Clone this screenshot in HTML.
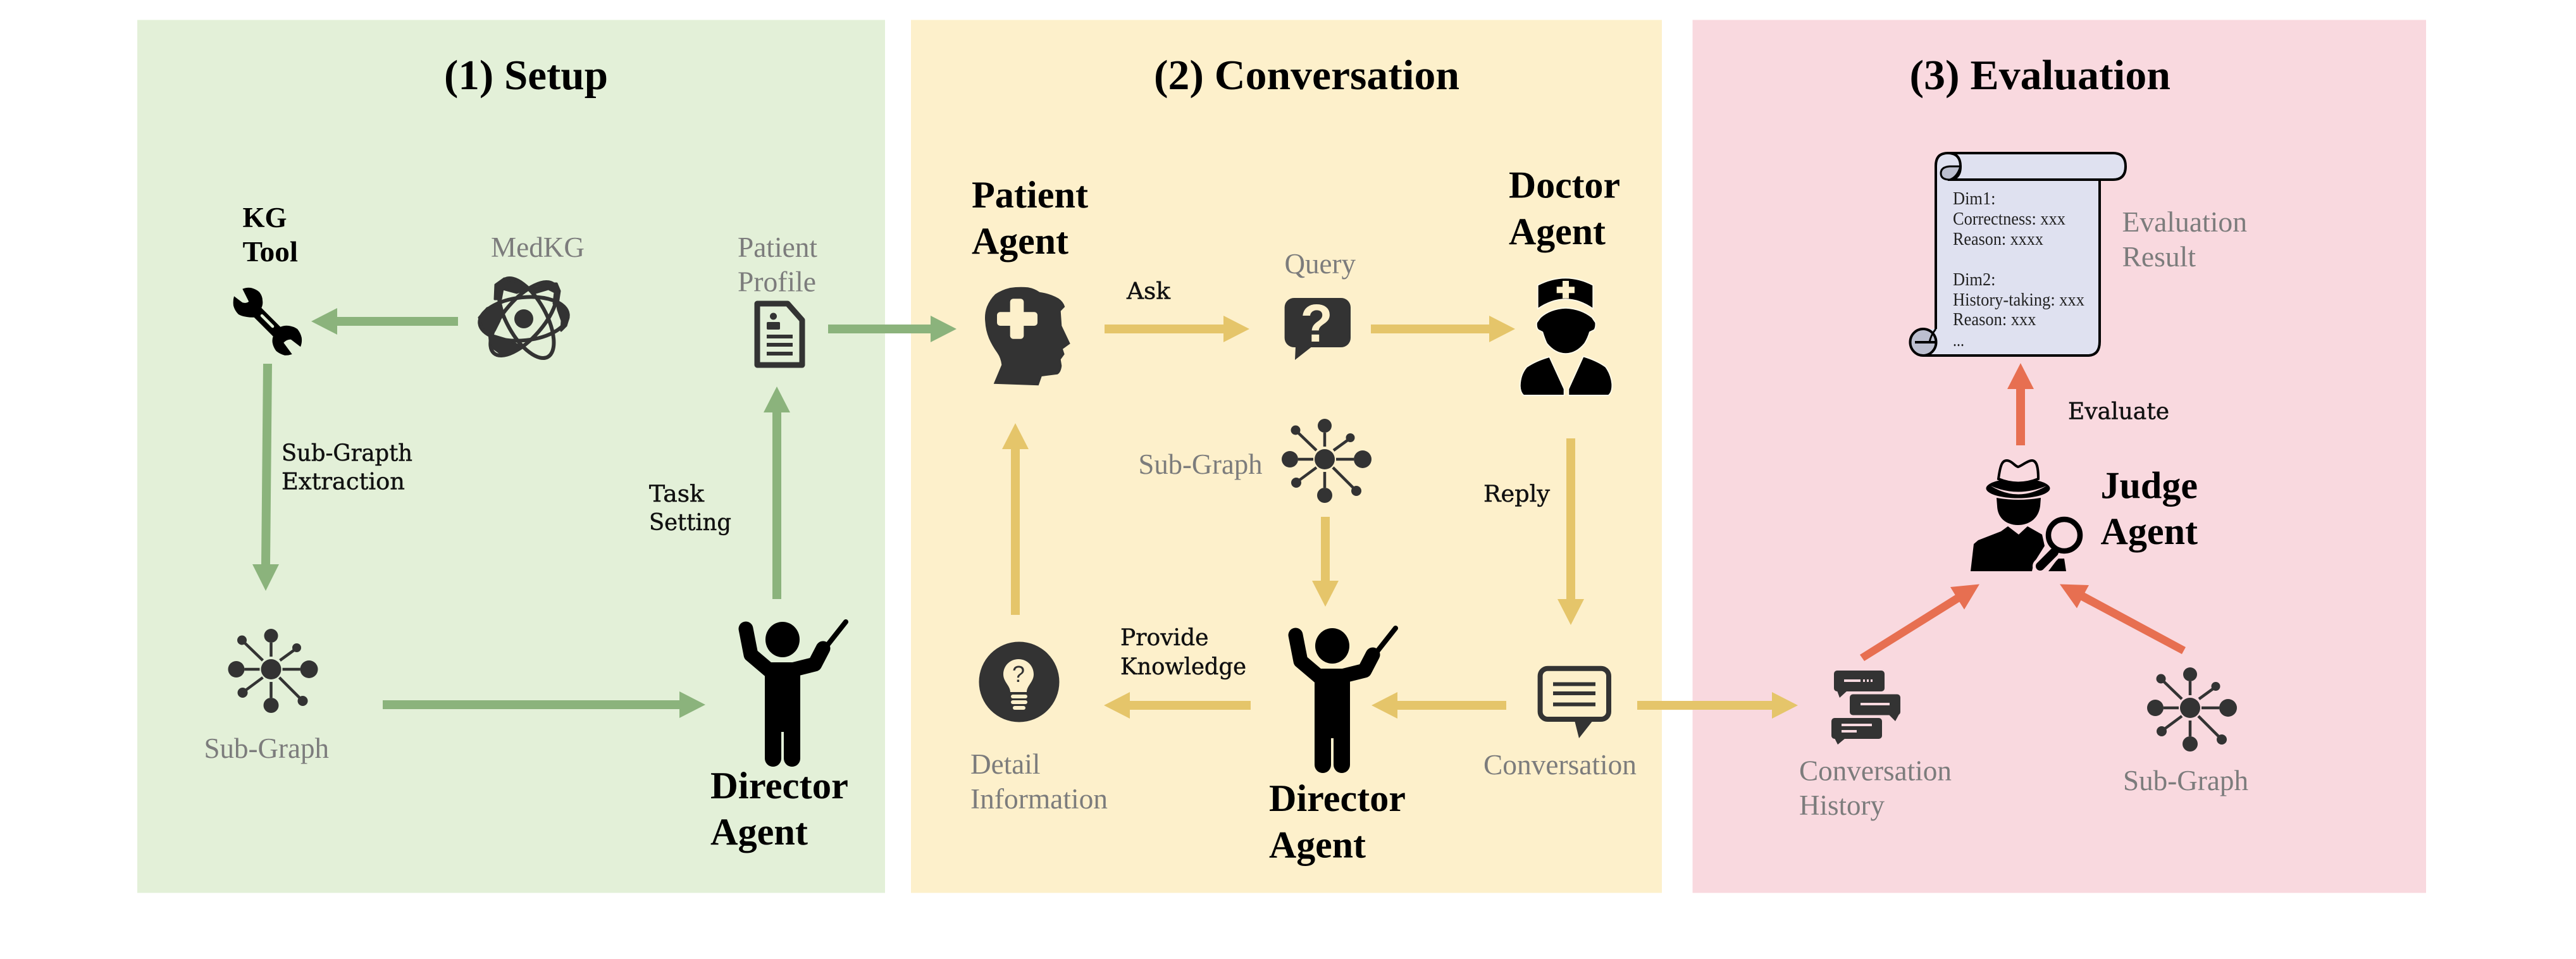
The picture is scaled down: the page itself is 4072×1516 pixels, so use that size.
<!DOCTYPE html>
<html>
<head>
<meta charset="utf-8">
<style>
html,body{margin:0;padding:0;background:#fff}
svg{display:block}
text{white-space:pre}
.t{font:bold 67px "Liberation Serif",serif;fill:#000}
.b{font:bold 60px "Liberation Serif",serif;fill:#000}
.k{font:bold 45px "Liberation Serif",serif;fill:#000}
.g{font:45px "Liberation Serif",serif;fill:#7c7c7c}
.m{font:36px "DejaVu Serif",serif;fill:#111;stroke:#111;stroke-width:.5}
.s{font:28px "Liberation Serif",serif;fill:#222}
.gr{fill:#8bb37c}.ye{fill:#e5c56a}.re{fill:#e76f51}
</style>
</head>
<body>
<svg xmlns="http://www.w3.org/2000/svg" width="4072" height="1516" viewBox="0 0 4072 1516">
<defs>
<g id="sg" fill="#333" stroke="none">
<g stroke="#333" stroke-width="4.5">
<line x1="0" y1="-20" x2="0" y2="-42"/><line x1="0" y1="20" x2="0" y2="45"/>
<line x1="-18" y1="0" x2="-42" y2="0"/><line x1="18" y1="0" x2="46" y2="0"/>
<line x1="-13" y1="-14" x2="-41" y2="-41"/><line x1="14" y1="-14" x2="36" y2="-30"/>
<line x1="-13" y1="13" x2="-40" y2="33"/><line x1="13" y1="13" x2="45" y2="45"/>
</g>
<circle r="16"/>
<circle cx="0" cy="-53" r="11"/><circle cx="-55" cy="0" r="13"/><circle cx="60" cy="0" r="14"/><circle cx="0" cy="57" r="12"/>
<circle cx="-46" cy="-46" r="7.5"/><circle cx="40.5" cy="-34" r="7"/><circle cx="-45" cy="37" r="8"/><circle cx="50" cy="50" r="8"/>
</g>
<g id="dir" fill="#000">
<ellipse cx="0" cy="0" rx="27" ry="28"/>
<rect x="-28" y="36" width="56" height="110"/>
<rect x="-28" y="110" width="26" height="91" rx="13"/>
<rect x="2" y="110" width="26" height="91" rx="13"/>
<polyline points="-58,-17 -50,24 -17,52" fill="none" stroke="#000" stroke-width="23" stroke-linecap="round" stroke-linejoin="round"/>
<polyline points="64,14 51,39 7,50" fill="none" stroke="#000" stroke-width="23" stroke-linecap="round" stroke-linejoin="round"/>
<line x1="70" y1="10" x2="100" y2="-28" stroke="#000" stroke-width="8" stroke-linecap="round"/>
</g>
</defs>

<rect x="217" y="31.5" width="1182" height="1380" fill="#e3f0d8"/>
<rect x="1440" y="31.5" width="1187" height="1380" fill="#fdf0cb"/>
<rect x="2675.5" y="31.5" width="1159.5" height="1380" fill="#f9d9df"/>

<text class="t" x="702" y="141" textLength="259" lengthAdjust="spacingAndGlyphs">(1) Setup</text>
<text class="t" x="1824" y="141" textLength="483" lengthAdjust="spacingAndGlyphs">(2) Conversation</text>
<text class="t" x="3018.5" y="141" textLength="412.5" lengthAdjust="spacingAndGlyphs">(3) Evaluation</text>

<!-- arrows -->
<polygon class="gr" points="724,501 533,501 533,487 492,508 533,529 533,515 724,515"/>
<polygon class="gr" points="416,575 430,575 427,892 441,892 420,934 399,892 413,892"/>
<polygon class="gr" points="605,1107 1074,1107 1074,1093 1115,1114 1074,1135 1074,1121 605,1121"/>
<polygon class="gr" points="1221,947 1221,652 1207,652 1228,611 1249,652 1235,652 1235,947"/>
<polygon class="gr" points="1309,513 1471,513 1471,499 1512,520 1471,541 1471,527 1309,527"/>
<polygon class="ye" points="1746,513 1934,513 1934,499 1975,520 1934,541 1934,527 1746,527"/>
<polygon class="ye" points="2167,513 2354,513 2354,499 2395,520 2354,541 2354,527 2167,527"/>
<polygon class="ye" points="2476,693 2490,693 2490,947 2504,947 2483,988 2462,947 2476,947"/>
<polygon class="ye" points="2381,1108 2209,1108 2209,1094 2168,1115 2209,1136 2209,1122 2381,1122"/>
<polygon class="ye" points="1977,1108 1786,1108 1786,1094 1745,1115 1786,1136 1786,1122 1977,1122"/>
<polygon class="ye" points="1598,972 1598,710 1584,710 1605,669 1626,710 1612,710 1612,972"/>
<polygon class="ye" points="2088,817 2102,817 2102,918 2116,918 2095,959 2074,918 2088,918"/>
<polygon class="ye" points="2588,1108 2801,1108 2801,1094 2842,1115 2801,1136 2801,1122 2588,1122"/>
<polygon class="re" points="3187,704 3187,615 3173,615 3194,574 3215,615 3201,615 3201,704"/>
<polygon class="re" points="2940,1035 3090.6,940.5 3083,928 3129,923.5 3105,963.5 3097.4,951.5 2947,1045"/>
<polygon class="re" points="3455,1023 3295.5,937 3302,925 3256,923.5 3283,961.5 3289.5,949 3449,1034"/>

<!-- wrench -->
<path d="M383.3 456.7 Q390 454 396.7 455 Q405 457 410 461.7 Q415 468 415 475 Q416 481 413.3 486.7 L443.3 516.7 Q450 514 456.7 515 Q464 516 470 520 Q475 526 476.7 533.3 Q478 541 475 548.3 L460 536.7 Q454 536 448.3 541.7 L461.7 560 Q456 562 450 561.7 Q443 560 436.7 555 Q432 549 430.7 541.7 Q430 536 431.7 531.7 L401.7 501.7 Q396 502 390 501 Q382 500 376.7 496.7 Q371 491 369 483.3 Q368 475 370 468.3 L383.3 478.3 Q389 480 393.3 476.7 Z" fill="#000"/>
<line x1="414" y1="499" x2="431" y2="516" stroke="#e3f0d8" stroke-width="4.5" stroke-linecap="round"/>

<!-- atom -->
<g fill="none" stroke="#333" stroke-width="6">
<ellipse cx="828" cy="504" rx="70" ry="34" transform="rotate(-6 828 504)"/>
<ellipse cx="832" cy="503" rx="70" ry="31" transform="rotate(61 832 503)"/>
<ellipse cx="828" cy="504" rx="72" ry="31" transform="rotate(-49 828 504)"/>
</g>
<circle cx="828" cy="504" r="15" fill="#333"/>
<g fill="#333" stroke="#333" stroke-width="3" stroke-linejoin="round">
<polygon points="790,480 770,487 757,502 763,520 773,527 782,523 790,507"/>
<polygon points="773,528 775,547 790,558 810,558 822,547 803,537"/>
<polygon points="782,473 783,450 797,440 820,447 833,457 817,463 795,457 792,473"/>
<polygon points="880,480 893,488 899,502 895,515 887,523 888,507 882,490"/>
<polygon points="840,458 863,448 880,448 885,460 882,480 875,480 877,462 867,457 847,463"/>
</g>

<!-- document -->
<path d="M1197 480 H1245 L1268 506 V577 H1197 Z" fill="#e3f0d8" stroke="#333" stroke-width="9" stroke-linejoin="round"/>
<circle cx="1222.5" cy="500" r="5.5" fill="#333"/>
<rect x="1212" y="509" width="21" height="12" rx="2" fill="#333"/>
<rect x="1212" y="529" width="41" height="6" fill="#333"/>
<rect x="1212" y="542" width="41" height="6" fill="#333"/>
<rect x="1212" y="556" width="41" height="6" fill="#333"/>

<!-- subgraphs -->
<use href="#sg" x="428.5" y="1058"/>
<use href="#sg" x="2094" y="726"/>
<use href="#sg" x="3462" y="1119"/>

<!-- directors -->
<use href="#dir" x="1237" y="1011"/>
<use href="#dir" x="2106" y="1021"/>

<!-- patient head -->
<path d="M1570.7 606.7 L1583.3 576.7 Q1582 566 1576.7 558.3 Q1568 546 1563.3 535 Q1558 522 1557.3 508.3 Q1556 496 1560 485 Q1565 473 1573.3 465 Q1584 458 1596.7 455 Q1611 453 1625 454.3 Q1635 456 1643.3 461.7 Q1660 464 1673.3 471.7 Q1681 477 1683.3 485 L1676.7 491.7 L1678.3 515 L1691.7 543.3 L1680 551.7 L1682.7 560 L1676.7 568.3 L1678.3 578.3 Q1677 589 1671.7 591.7 L1646.7 595 L1641.7 609.3 Z" fill="#333"/>
<rect x="1596.7" y="472.3" width="21.6" height="63.4" rx="5" fill="#fdf0cb"/>
<rect x="1576" y="493.3" width="64" height="21.7" rx="5" fill="#fdf0cb"/>

<!-- query bubble -->
<rect x="2030.6" y="471" width="104.4" height="78" rx="15" fill="#333"/>
<polygon points="2048,547 2075,547 2047,569" fill="#333"/>
<text x="2081" y="540" text-anchor="middle" style="font:bold 84px 'Liberation Sans',sans-serif;fill:#fdf0cb">?</text>

<!-- doctor -->
<g stroke="#fffaea" stroke-width="2" stroke-linejoin="round" fill="#000">
<path d="M2430.7 450.7 Q2475 428 2518.3 450.7 V488.3 Q2475 458 2430.7 488.3 Z"/>
<path d="M2475 486.7 Q2450 488 2435 501.7 L2429 510 Q2428 518 2431.7 521.7 L2438.3 525 Q2442 537 2445 543 Q2458 559 2475 559.3 Q2492 559 2505 543 Q2510 535 2513 525 L2520 521.7 Q2523 518 2522.3 510 L2516.7 501.7 Q2500 488 2475 486.7 Z"/>
<path d="M2408.3 625 Q2403 620 2402.7 610 Q2403 592 2413.3 580 Q2428 570 2449.3 564 L2472.7 615 V625 Z"/>
<path d="M2479.3 625 V615 L2502.7 563.3 Q2525 570 2538.3 580 Q2547 592 2548.3 606.7 Q2549 620 2542.7 625 Z"/>
</g>
<rect x="2470" y="444" width="10" height="27.7" fill="#fdf0cb"/>
<rect x="2460.7" y="453.3" width="28.3" height="10" fill="#fdf0cb"/>

<!-- bulb -->
<circle cx="1611" cy="1078" r="63.5" fill="#333"/>
<path d="M1597 1094 C1597 1084 1586 1078 1586 1066 C1586 1052 1597 1042 1610 1042 C1623 1042 1634 1052 1634 1066 C1634 1078 1623 1084 1623 1094 Z" fill="#fdf0cb"/>
<rect x="1598" y="1098" width="26" height="6" rx="3" fill="#fdf0cb"/>
<rect x="1598" y="1107" width="26" height="6" rx="3" fill="#fdf0cb"/>
<rect x="1601" y="1116" width="20" height="6" rx="3" fill="#fdf0cb"/>
<text x="1610" y="1078" text-anchor="middle" style="font:36px 'Liberation Sans',sans-serif;fill:#333">?</text>

<!-- conversation bubble -->
<rect x="2434.6" y="1056.7" width="108.4" height="80.3" rx="12" fill="#fdf0cb" stroke="#333" stroke-width="8"/>
<polygon points="2489,1139 2518,1139 2496,1167" fill="#333"/>
<rect x="2455" y="1078.5" width="67" height="6" fill="#333"/>
<rect x="2455" y="1093" width="67" height="6" fill="#333"/>
<rect x="2455" y="1110.5" width="67" height="6" fill="#333"/>

<!-- chat history -->
<rect x="2899" y="1060" width="80" height="33" rx="5" fill="#333"/>
<polygon points="2904,1092 2920,1092 2908,1103" fill="#333"/>
<rect x="2915" y="1074" width="26" height="4" fill="#f9d9df"/>
<rect x="2945" y="1074" width="3" height="4" fill="#f9d9df"/><rect x="2951" y="1074" width="3" height="4" fill="#f9d9df"/><rect x="2957" y="1074" width="3" height="4" fill="#f9d9df"/>
<rect x="2924" y="1097.5" width="80" height="33" rx="5" fill="#333"/>
<polygon points="2985,1129 3002,1129 2996,1140" fill="#333"/>
<rect x="2941" y="1111" width="46" height="4" fill="#f9d9df"/>
<rect x="2895" y="1135" width="80" height="33" rx="5" fill="#333"/>
<polygon points="2900,1167 2917,1167 2905,1177" fill="#333"/>
<rect x="2911" y="1144" width="48" height="4" fill="#f9d9df"/>
<rect x="2911" y="1154" width="24" height="4" fill="#f9d9df"/>

<!-- scroll -->
<path d="M3040 520 H3060 V262 Q3060 242 3079 242 L3319 284 V540 Q3319 562 3300 562 H3040 Z" fill="#dfe1f0" stroke="none"/>
<path d="M3060 520 V262 Q3060 242 3079 242 M3319 284 V540 Q3319 562 3300 562 H3040" fill="none" stroke="#000" stroke-width="4"/>
<path d="M3079 242 H3340 Q3360 242 3360 263 Q3360 284 3340 284 H3079 Q3099 284 3099 263 Q3099 242 3079 242 Z" fill="#dfe1f0" stroke="#000" stroke-width="4"/>
<path d="M3099 263 H3082 Q3068 264 3068 274 Q3068 284 3082 284 Q3094 280 3099 263 Z" fill="#bcbfcf" stroke="#000" stroke-width="3"/>
<ellipse cx="3040" cy="541" rx="20.5" ry="21" fill="#bcbfcf" stroke="#000" stroke-width="4"/>
<path d="M3060 520 Q3052 530 3050 541" fill="none" stroke="#000" stroke-width="3"/>
<line x1="3027" y1="541" x2="3060" y2="541" stroke="#000" stroke-width="4"/>

<!-- scroll text -->
<text class="s" x="3087" y="323" textLength="67.5" lengthAdjust="spacingAndGlyphs">Dim1:</text>
<text class="s" x="3087" y="355" textLength="178" lengthAdjust="spacingAndGlyphs">Correctness: xxx</text>
<text class="s" x="3087" y="387" textLength="143" lengthAdjust="spacingAndGlyphs">Reason: xxxx</text>
<text class="s" x="3087" y="451" textLength="67.5" lengthAdjust="spacingAndGlyphs">Dim2:</text>
<text class="s" x="3087" y="483" textLength="208" lengthAdjust="spacingAndGlyphs">History-taking: xxx</text>
<text class="s" x="3087" y="514" textLength="131.5" lengthAdjust="spacingAndGlyphs">Reason: xxx</text>
<text class="s" x="3087" y="547" textLength="18" lengthAdjust="spacingAndGlyphs">...</text>

<!-- judge -->
<ellipse cx="3190" cy="772" rx="50.5" ry="15.5" fill="#000"/>
<path d="M3146.7 768 Q3190 795 3235 768 Q3190 787 3146.7 768 Z" fill="#f9d9df"/>
<path d="M3159 757 C3162 735 3165 728 3172 728 C3180 728 3185 737 3190 738 C3195 737 3205 728 3212 728 C3220 728 3222 740 3222 757 Q3190 770 3159 757 Z" fill="#f9d9df" stroke="#000" stroke-width="4"/>
<path d="M3156 787 Q3190 793 3226 787 L3225 800 C3222 822 3205 830 3190 830 C3175 830 3158 822 3157 800 Z" fill="#000"/>
<polygon points="3115,903 3120,860 3127,854 3163,840 3174,832 3191,845 3205,832 3228,845 3232,863 3215,890 3212,903" fill="#000"/>
<polygon points="3238,903 3253,883 3263,883 3266,903" fill="#000"/>
<line x1="3225" y1="895" x2="3247" y2="873" stroke="#f9d9df" stroke-width="24" stroke-linecap="round"/>
<line x1="3225" y1="895" x2="3247" y2="873" stroke="#000" stroke-width="14" stroke-linecap="round"/>
<circle cx="3263" cy="846" r="25" fill="#f9d9df" stroke="#000" stroke-width="8.5"/>

<!-- bold labels -->
<text class="k" x="383.5" y="359" textLength="70" lengthAdjust="spacingAndGlyphs">KG</text>
<text class="k" x="383.5" y="413" textLength="87.5" lengthAdjust="spacingAndGlyphs">Tool</text>
<text class="b" x="1123" y="1262" textLength="218" lengthAdjust="spacingAndGlyphs">Director</text>
<text class="b" x="1123" y="1335" textLength="154" lengthAdjust="spacingAndGlyphs">Agent</text>
<text class="b" x="1536" y="328" textLength="184" lengthAdjust="spacingAndGlyphs">Patient</text>
<text class="b" x="1536" y="401" textLength="153" lengthAdjust="spacingAndGlyphs">Agent</text>
<text class="b" x="2385" y="312.5" textLength="176" lengthAdjust="spacingAndGlyphs">Doctor</text>
<text class="b" x="2385" y="386" textLength="153" lengthAdjust="spacingAndGlyphs">Agent</text>
<text class="b" x="2006" y="1282" textLength="216" lengthAdjust="spacingAndGlyphs">Director</text>
<text class="b" x="2006" y="1355.5" textLength="153" lengthAdjust="spacingAndGlyphs">Agent</text>
<text class="b" x="3320.5" y="787.5" textLength="153.5" lengthAdjust="spacingAndGlyphs">Judge</text>
<text class="b" x="3320.5" y="860" textLength="153.5" lengthAdjust="spacingAndGlyphs">Agent</text>

<!-- grey labels -->
<text class="g" x="776" y="406" textLength="148" lengthAdjust="spacingAndGlyphs">MedKG</text>
<text class="g" x="1166" y="406" textLength="126" lengthAdjust="spacingAndGlyphs">Patient</text>
<text class="g" x="1166" y="460.5" textLength="124" lengthAdjust="spacingAndGlyphs">Profile</text>
<text class="g" x="322.5" y="1198" textLength="197.5" lengthAdjust="spacingAndGlyphs">Sub-Graph</text>
<text class="g" x="2030.5" y="432" textLength="112.5" lengthAdjust="spacingAndGlyphs">Query</text>
<text class="g" x="1799.5" y="749" textLength="196" lengthAdjust="spacingAndGlyphs">Sub-Graph</text>
<text class="g" x="1534" y="1223" textLength="110.5" lengthAdjust="spacingAndGlyphs">Detail</text>
<text class="g" x="1534" y="1278" textLength="217" lengthAdjust="spacingAndGlyphs">Information</text>
<text class="g" x="2345" y="1224" textLength="242" lengthAdjust="spacingAndGlyphs">Conversation</text>
<text class="g" x="2844" y="1233.5" textLength="241" lengthAdjust="spacingAndGlyphs">Conversation</text>
<text class="g" x="2844" y="1288" textLength="135" lengthAdjust="spacingAndGlyphs">History</text>
<text class="g" x="3356" y="1249" textLength="198" lengthAdjust="spacingAndGlyphs">Sub-Graph</text>
<text class="g" x="3354.5" y="366" textLength="197.5" lengthAdjust="spacingAndGlyphs">Evaluation</text>
<text class="g" x="3354.5" y="421" textLength="116.5" lengthAdjust="spacingAndGlyphs">Result</text>

<!-- typewriter labels -->
<text class="m" x="445" y="728.5" textLength="207" lengthAdjust="spacingAndGlyphs">Sub-Grapth</text>
<text class="m" x="445" y="773.5" textLength="195" lengthAdjust="spacingAndGlyphs">Extraction</text>
<text class="m" x="1026" y="793" textLength="87" lengthAdjust="spacingAndGlyphs">Task</text>
<text class="m" x="1026" y="838" textLength="130" lengthAdjust="spacingAndGlyphs">Setting</text>
<text class="m" x="1781" y="472.5" textLength="69" lengthAdjust="spacingAndGlyphs">Ask</text>
<text class="m" x="2345" y="793" textLength="105" lengthAdjust="spacingAndGlyphs">Reply</text>
<text class="m" x="1771" y="1020" textLength="139.5" lengthAdjust="spacingAndGlyphs">Provide</text>
<text class="m" x="1771" y="1066" textLength="199" lengthAdjust="spacingAndGlyphs">Knowledge</text>
<text class="m" x="3269" y="662.5" textLength="160" lengthAdjust="spacingAndGlyphs">Evaluate</text>
</svg>
</body>
</html>
